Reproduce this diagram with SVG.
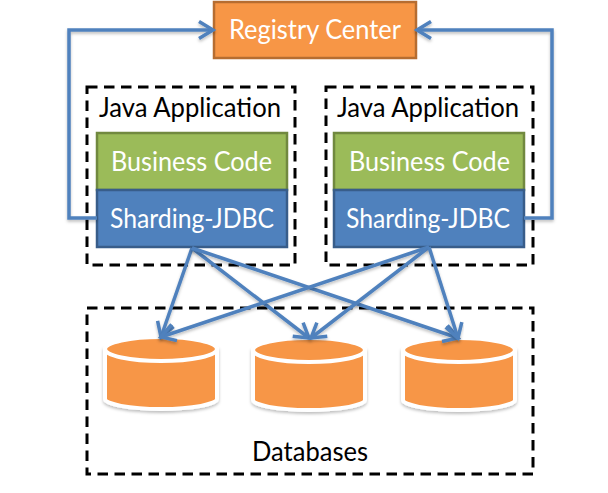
<svg xmlns="http://www.w3.org/2000/svg" width="608" height="493" viewBox="0 0 608 493">
<style>
text{font-family:"Lato","Open Sans","Liberation Sans",sans-serif;font-size:26px}
.w{fill:#fff}.k{fill:#000}
.dash{fill:none;stroke:#000;stroke-width:3;stroke-dasharray:10.5 6.5}
.conn{fill:none;stroke:#4f81bd;stroke-width:3.5;filter:url(#sh)}
.green{fill:#9bbb59;stroke:#71893f;stroke-width:2.500}
.blue{fill:#4f81bd;stroke:#385d8a;stroke-width:2.500}
.orange{fill:#f79646;stroke:#b66d31;stroke-width:2.500}
.db{fill:#f79646;stroke:#fff;stroke-width:4;filter:url(#sh)}
.top{fill:#f79646;stroke:#fff;stroke-width:4}
</style>
<defs>
<filter id="sh" x="-20%" y="-20%" width="140%" height="140%"><feDropShadow dx="0" dy="2" stdDeviation="1.5" flood-color="#000" flood-opacity="0.25"/></filter>
<marker id="arr" markerUnits="userSpaceOnUse" markerWidth="24" markerHeight="24" refX="18" refY="12" orient="auto"><path d="M4 3.500L18 12L4 20.500" fill="none" stroke="#4f81bd" stroke-width="3.5"/></marker>
<g id="cyl"><path class="db" d="M-56 0V50C-56 55 -32 60 0 60S56 55 56 50V0Z"/><ellipse class="top" cx="0" cy="0" rx="56" ry="12"/></g>
</defs>
<g id="app-left">
<rect class="dash" x="87" y="87" width="208" height="178"/>
<text class="k" x="99" y="117" textLength="182" lengthAdjust="spacingAndGlyphs">Java Application</text>
<rect class="green" x="97" y="133" width="190" height="57"/>
<text class="w" x="111" y="171" textLength="161" lengthAdjust="spacingAndGlyphs">Business Code</text>
<rect class="blue" x="97" y="190" width="190" height="57"/>
<text class="w" x="110" y="228" textLength="164" lengthAdjust="spacingAndGlyphs">Sharding-JDBC</text>
</g>
<g id="app-right">
<rect class="dash" x="326" y="87" width="207" height="178"/>
<text class="k" x="337" y="117" textLength="182" lengthAdjust="spacingAndGlyphs">Java Application</text>
<rect class="green" x="334" y="133" width="190" height="57"/>
<text class="w" x="349" y="171" textLength="161" lengthAdjust="spacingAndGlyphs">Business Code</text>
<rect class="blue" x="334" y="190" width="190" height="57"/>
<text class="w" x="346" y="228" textLength="164" lengthAdjust="spacingAndGlyphs">Sharding-JDBC</text>
</g>
<g id="registry">
<rect class="orange" x="214" y="2" width="202" height="56"/>
<text class="w" x="229" y="39" textLength="172" lengthAdjust="spacingAndGlyphs">Registry Center</text>
</g>
<g id="databases">
<rect class="dash" x="87" y="308" width="446" height="166"/>
<use id="db1" href="#cyl" x="161" y="349"/>
<use id="db2" href="#cyl" x="309" y="350"/>
<use id="db3" href="#cyl" x="459" y="350"/>
<text class="k" x="252" y="461" textLength="116" lengthAdjust="spacingAndGlyphs">Databases</text>
</g>
<g id="connectors">
<path class="conn" d="M97 218H69V30H213" marker-end="url(#arr)"/>
<path class="conn" d="M524 218H552V30H417" marker-end="url(#arr)"/>
<path class="conn" d="M192 248L161 337" marker-end="url(#arr)"/>
<path class="conn" d="M192 248L309 338" marker-end="url(#arr)"/>
<path class="conn" d="M192 248L458 338" marker-end="url(#arr)"/>
<path class="conn" d="M429 247L161 337" marker-end="url(#arr)"/>
<path class="conn" d="M429 247L311 338" marker-end="url(#arr)"/>
<path class="conn" d="M429 247L458 338" marker-end="url(#arr)"/>
</g>
</svg>
